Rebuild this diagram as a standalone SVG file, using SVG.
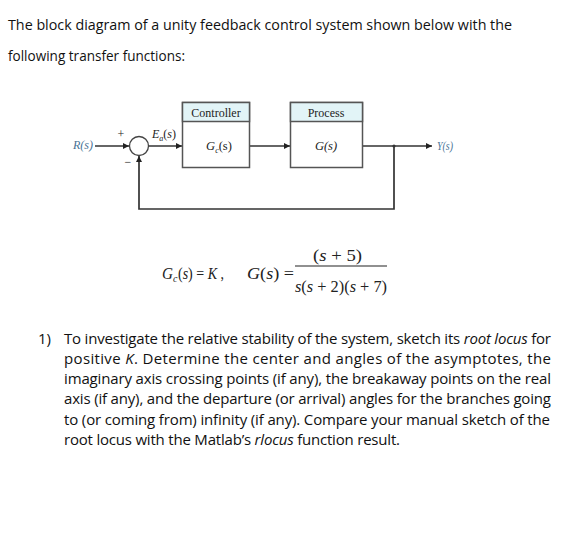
<svg xmlns="http://www.w3.org/2000/svg" width="568" height="536" viewBox="0 0 568 536">
<defs>
<style>
.body{font-family:"Open Sans","Liberation Sans",sans-serif;font-size:15px;fill:#111}
.it{font-style:italic}
.serif{font-family:"Liberation Serif","Times New Roman",serif;fill:#222}
.box{fill:#fff;stroke:#555;stroke-width:1.5}
.hdr{fill:#e2f4f7;stroke:#555;stroke-width:1.5}
.wire{fill:none;stroke:#333;stroke-width:1.7}
.sig{font-family:"Liberation Serif","Times New Roman",serif;font-size:12px;font-style:italic;fill:#4a7396}
</style>
<marker id="arr" viewBox="0 0 10 10" refX="10" refY="5" markerWidth="8" markerHeight="6" markerUnits="userSpaceOnUse" orient="auto">
<path d="M0,0 L10,5 L0,10 z" fill="#222"/>
</marker>
</defs>
<rect width="568" height="536" fill="#fff"/>

<g id="title">
<text class="body" x="8" y="30" font-size="16" textLength="504" lengthAdjust="spacingAndGlyphs">The block diagram of a unity feedback control system shown below with the</text>
<text class="body" x="8" y="61" font-size="16" textLength="177" lengthAdjust="spacingAndGlyphs">following transfer functions:</text>
</g>

<g id="connectors">
<line class="wire" x1="95" y1="146" x2="129" y2="146" marker-end="url(#arr)"/>
<line class="wire" x1="149" y1="146" x2="182" y2="146" marker-end="url(#arr)"/>
<line class="wire" x1="249" y1="146" x2="290" y2="146" marker-end="url(#arr)"/>
<line class="wire" x1="362" y1="146" x2="432" y2="146" marker-end="url(#arr)"/>
<polyline class="wire" points="394,146 394,209 139,209 139,156" marker-end="url(#arr)"/>
<circle cx="394" cy="146" r="1.6" fill="#333"/>
</g>

<g id="input">
<text class="sig" x="73" y="149" textLength="20" lengthAdjust="spacingAndGlyphs">R(s)</text>
</g>

<g id="sum">
<circle cx="139" cy="146" r="9.5" fill="#fff" stroke="#444" stroke-width="1.3"/>
<text class="serif" x="121" y="138" font-size="12" text-anchor="middle">+</text>
<text class="serif" x="128" y="166" font-size="12" text-anchor="middle">−</text>
<text class="serif" x="152" y="138" font-size="12"><tspan class="it">E</tspan><tspan class="it" font-size="8" dy="3">a</tspan><tspan dy="-3">(</tspan><tspan class="it">s</tspan>)</text>
</g>

<g id="controller">
<rect class="box" x="182.5" y="102.5" width="67" height="65"/>
<rect class="hdr" x="182.5" y="102.5" width="67" height="19"/>
<text class="serif" x="216" y="117" font-size="12" text-anchor="middle">Controller</text>
<text class="serif" x="219" y="150" font-size="12.5" text-anchor="middle"><tspan class="it">G</tspan><tspan class="it" font-size="8" dy="3">c</tspan><tspan dy="-3">(s)</tspan></text>
</g>

<g id="process">
<rect class="box" x="290.5" y="102.5" width="72" height="65"/>
<rect class="hdr" x="290.5" y="102.5" width="72" height="19"/>
<text class="serif" x="326" y="117" font-size="12" text-anchor="middle">Process</text>
<text class="serif it" x="326" y="150" font-size="12.5" text-anchor="middle">G(s)</text>
</g>

<g id="output">
<text class="sig" x="437" y="150" font-size="11" textLength="16" lengthAdjust="spacingAndGlyphs">Y(s)</text>
</g>

<g id="equation">
<text class="serif it" x="162" y="279" font-size="17" textLength="11" lengthAdjust="spacingAndGlyphs">G</text>
<text class="serif it" x="173" y="282" font-size="10">c</text>
<text class="serif" x="178" y="279" font-size="17" textLength="46" lengthAdjust="spacingAndGlyphs">(<tspan class="it">s</tspan>) = <tspan class="it">K</tspan> ,</text>
<text class="serif" x="247" y="279" font-size="17" textLength="47" lengthAdjust="spacingAndGlyphs"><tspan class="it">G</tspan>(<tspan class="it">s</tspan>) =</text>
<text class="serif" x="313" y="261" font-size="17" textLength="49" lengthAdjust="spacingAndGlyphs">(<tspan class="it">s</tspan> + 5)</text>
<line x1="295" y1="266" x2="387" y2="266" stroke="#222" stroke-width="1.2"/>
<text class="serif" x="295" y="292" font-size="17" textLength="92" lengthAdjust="spacingAndGlyphs"><tspan class="it">s</tspan>(<tspan class="it">s</tspan> + 2)(<tspan class="it">s</tspan> + 7)</text>
</g>

<g id="question">
<text class="body" x="38" y="344">1)</text>
<text class="body" x="64" y="344" textLength="487">To investigate the relative stability of the system, sketch its <tspan class="it">root locus</tspan> for</text>
<text class="body" x="64" y="364" textLength="487">positive <tspan class="it">K</tspan>. Determine the center and angles of the asymptotes, the</text>
<text class="body" x="64" y="384" textLength="487">imaginary axis crossing points (if any), the breakaway points on the real</text>
<text class="body" x="64" y="404" textLength="487">axis (if any), and the departure (or arrival) angles for the branches going</text>
<text class="body" x="64" y="425" textLength="486">to (or coming from) infinity (if any). Compare your manual sketch of the</text>
<text class="body" x="64" y="445" textLength="336">root locus with the Matlab’s <tspan class="it">rlocus</tspan> function result.</text>
</g>
</svg>
